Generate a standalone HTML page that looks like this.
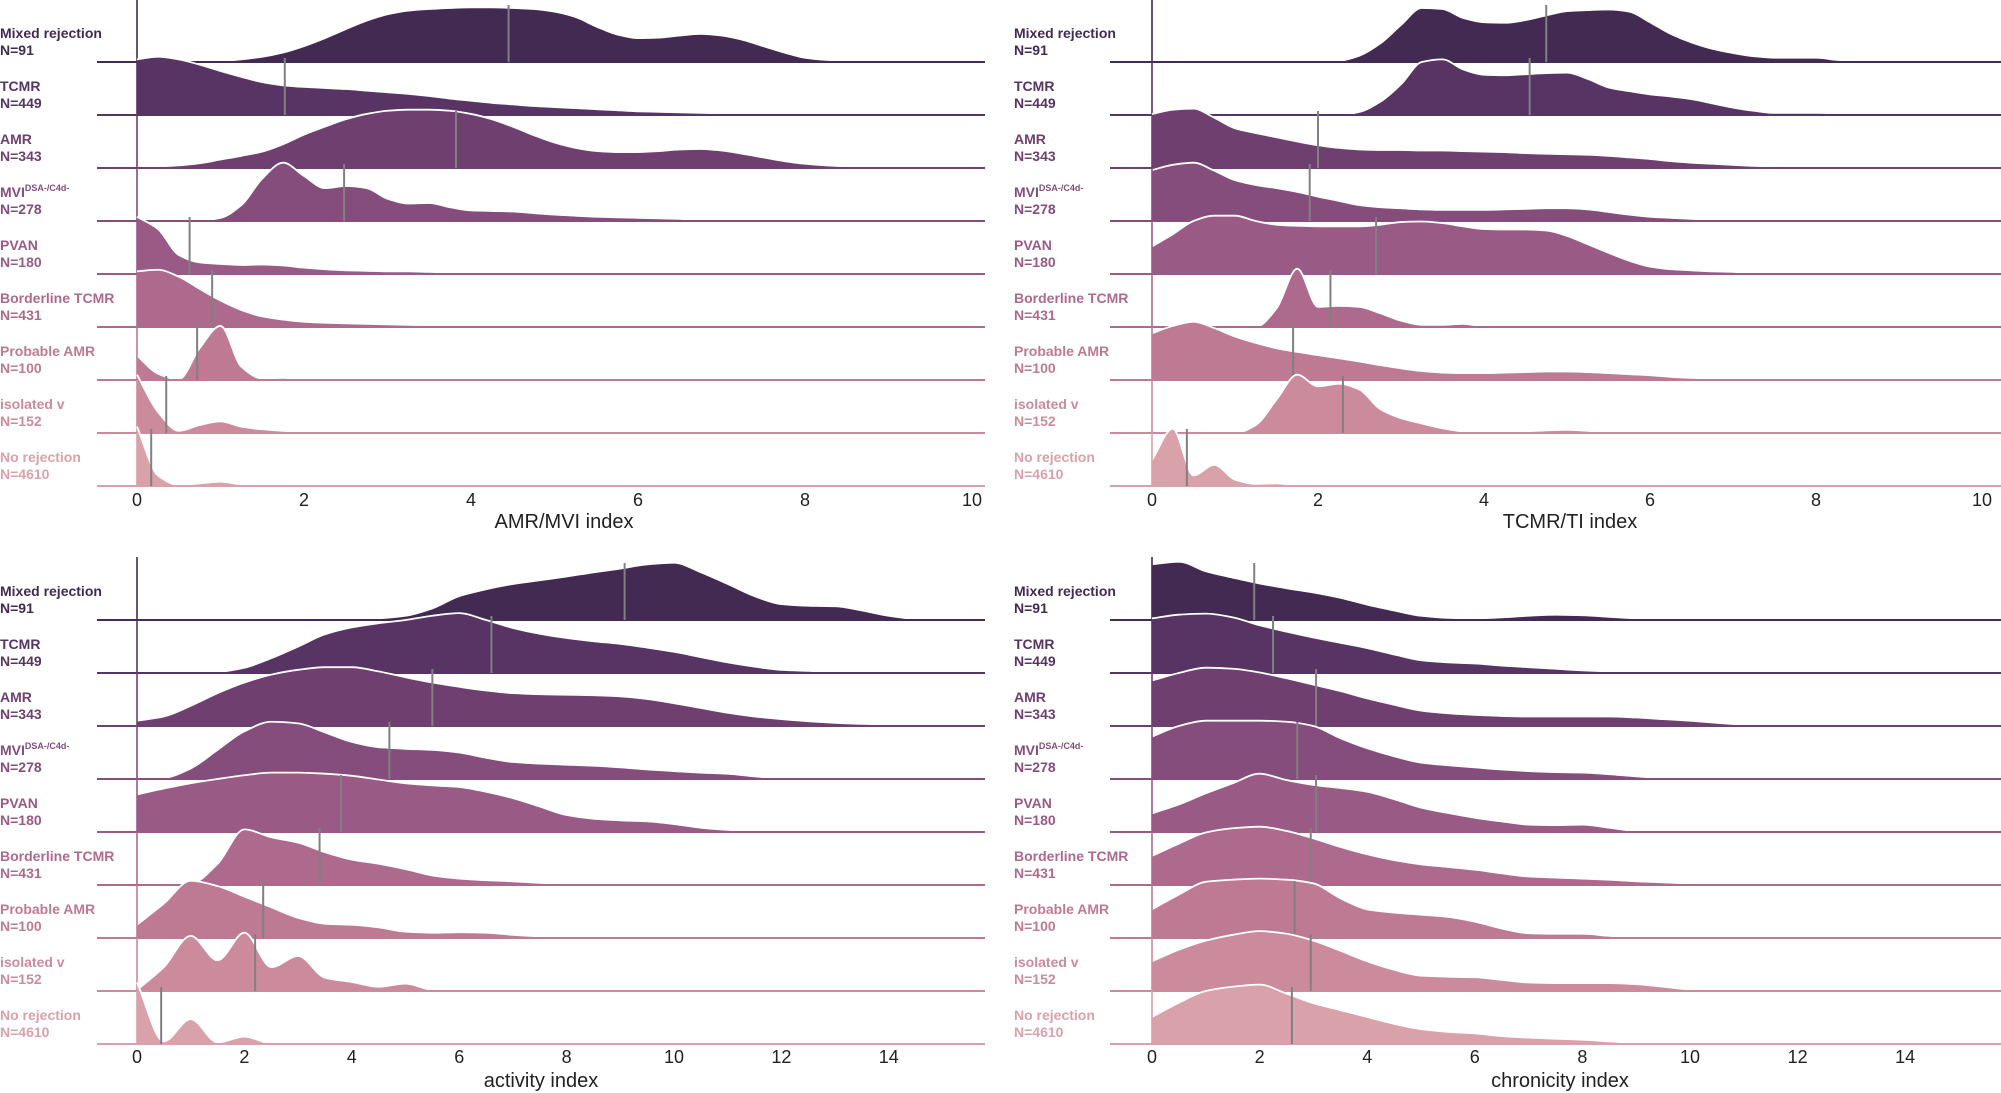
<!DOCTYPE html>
<html><head><meta charset="utf-8">
<style>
html,body{margin:0;padding:0;background:#fff;}
svg{display:block;font-family:"Liberation Sans",sans-serif;}
</style></head>
<body>
<svg id="chart" width="2001" height="1093" viewBox="0 0 2001 1093" xmlns="http://www.w3.org/2000/svg"></svg>
<script>
const categories = ["Mixed rejection","TCMR","AMR","MVI","PVAN","Borderline TCMR","Probable AMR","isolated v","No rejection"];
const counts = [91,449,343,278,180,431,100,152,4610];
const colors = ["#432a52","#573463","#6f3f70","#854d7c","#9a5a86","#ad6a8c","#be7993","#cb8b9d","#d9a1aa"];

// Panel 1: AMR/MVI index, grid step 0.25
const amrStep = 0.25;
const amrTicks = [0,2,4,6,8,10];
const amrMedians = [4.45,1.77,3.82,2.48,0.63,0.9,0.72,0.35,0.17];
const amrDens = [
 [0,0,0,0.01,0.02,0.05,0.1,0.18,0.3,0.45,0.62,0.78,0.9,0.97,1.0,1.02,1.03,1.03,1.02,1.0,0.95,0.85,0.67,0.52,0.45,0.46,0.5,0.53,0.5,0.42,0.3,0.18,0.08,0.04,0.02,0.01,0],
 [1.05,1.1,1.05,0.95,0.83,0.72,0.62,0.56,0.53,0.51,0.49,0.46,0.43,0.4,0.36,0.31,0.27,0.23,0.2,0.17,0.15,0.13,0.11,0.09,0.07,0.06,0.05,0.04,0.03,0.02,0.01,0],
 [0.02,0.03,0.05,0.09,0.16,0.23,0.31,0.45,0.63,0.78,0.92,1.02,1.08,1.1,1.1,1.08,1.02,0.92,0.78,0.62,0.48,0.38,0.32,0.3,0.3,0.32,0.35,0.36,0.33,0.27,0.2,0.13,0.08,0.05,0.03,0.01,0],
 [0,0,0,0.01,0.06,0.3,0.8,1.1,0.85,0.62,0.66,0.62,0.42,0.33,0.34,0.26,0.2,0.19,0.18,0.15,0.12,0.1,0.08,0.07,0.06,0.05,0.04,0.02,0.01,0],
 [1.08,0.85,0.36,0.22,0.19,0.17,0.18,0.16,0.12,0.09,0.07,0.06,0.05,0.05,0.04,0.03,0.03,0.02,0.02,0.01,0],
 [1.05,1.08,0.95,0.72,0.5,0.32,0.2,0.14,0.1,0.08,0.07,0.06,0.05,0.04,0.03,0.02,0.01,0],
 [0.46,0.12,0.01,0.6,1.02,0.25,0.03,0.04,0.01,0.02,0.01,0],
 [1.1,0.4,0.04,0.15,0.22,0.12,0.07,0.04,0.02,0.02,0.01,0],
 [1.12,0.2,0.02,0.05,0.08,0.03,0.01,0]
];

// Panel 2: TCMR/TI index, grid step 0.25
const tcmrStep = 0.25;
const tcmrTicks = [0,2,4,6,8,10];
const tcmrMedians = [4.75,4.55,2.0,1.9,2.7,2.15,1.7,2.3,0.42];
const tcmrDens = [
 [0,0,0,0,0,0,0,0,0,0.02,0.12,0.35,0.7,1.02,1.0,0.83,0.75,0.74,0.79,0.88,0.96,0.98,0.99,0.95,0.75,0.53,0.37,0.25,0.17,0.11,0.08,0.08,0.08,0.04,0.01,0],
 [0,0,0,0,0,0,0,0,0,0,0.06,0.25,0.58,1.0,1.05,0.86,0.76,0.75,0.77,0.79,0.8,0.68,0.52,0.45,0.39,0.35,0.3,0.22,0.14,0.08,0.04,0.04,0.04,0.03,0.01,0],
 [1.02,1.1,1.12,0.95,0.75,0.66,0.58,0.5,0.43,0.38,0.35,0.34,0.34,0.33,0.33,0.32,0.31,0.3,0.28,0.27,0.26,0.25,0.23,0.2,0.17,0.13,0.1,0.08,0.06,0.04,0.03,0.02,0.02,0.01,0],
 [0.96,1.06,1.1,0.95,0.77,0.68,0.62,0.55,0.46,0.38,0.3,0.26,0.24,0.22,0.21,0.21,0.21,0.22,0.23,0.24,0.24,0.22,0.17,0.12,0.08,0.06,0.04,0.02,0.01,0],
 [0.52,0.75,1.0,1.1,1.1,1.0,0.93,0.91,0.9,0.9,0.9,0.93,0.98,0.99,0.96,0.9,0.85,0.84,0.84,0.82,0.72,0.56,0.4,0.25,0.14,0.09,0.07,0.05,0.04,0.02,0.01,0],
 [0,0,0,0,0,0,0.35,1.1,0.38,0.4,0.38,0.26,0.12,0.04,0.04,0.06,0.01,0],
 [0.88,1.02,1.1,0.98,0.82,0.7,0.6,0.53,0.47,0.41,0.35,0.28,0.22,0.17,0.14,0.13,0.13,0.14,0.15,0.16,0.16,0.15,0.13,0.11,0.09,0.06,0.04,0.03,0.02,0.01,0],
 [0,0,0,0,0,0.15,0.63,1.1,0.88,0.93,0.82,0.45,0.28,0.18,0.09,0.03,0.02,0.02,0.03,0.05,0.06,0.04,0.01,0],
 [0.49,1.08,0.2,0.4,0.12,0.04,0.05,0.01,0]
];

// Panel 3: activity index, grid step 0.5
const actStep = 0.5;
const actTicks = [0,2,4,6,8,10,12,14];
const actMedians = [9.08,6.6,5.5,4.7,3.8,3.4,2.35,2.2,0.45];
const actDens = [
 [0,0,0,0,0,0,0,0,0,0.03,0.08,0.22,0.45,0.58,0.68,0.75,0.82,0.9,0.97,1.05,1.08,0.9,0.68,0.45,0.3,0.27,0.26,0.18,0.08,0.02,0],
 [0,0,0,0.02,0.1,0.28,0.5,0.73,0.86,0.94,1.0,1.08,1.13,1.0,0.85,0.74,0.66,0.6,0.55,0.48,0.4,0.3,0.2,0.12,0.06,0.04,0.02,0.01,0],
 [0.1,0.18,0.38,0.62,0.82,0.97,1.06,1.11,1.11,1.03,0.92,0.82,0.74,0.67,0.62,0.6,0.59,0.58,0.56,0.51,0.43,0.34,0.25,0.18,0.13,0.09,0.06,0.04,0.03,0.02,0.01],
 [0,0.02,0.2,0.55,0.9,1.08,1.05,0.88,0.7,0.6,0.57,0.55,0.5,0.4,0.32,0.29,0.27,0.25,0.22,0.18,0.15,0.12,0.1,0.05,0.01,0],
 [0.71,0.82,0.92,1.0,1.07,1.12,1.12,1.1,1.06,0.99,0.92,0.88,0.85,0.76,0.64,0.48,0.32,0.25,0.22,0.2,0.15,0.08,0.04,0.02,0.01,0],
 [0,0,0.02,0.4,1.05,0.9,0.8,0.62,0.48,0.4,0.3,0.18,0.12,0.09,0.07,0.04,0.02,0.01,0],
 [0.25,0.65,1.08,0.98,0.78,0.58,0.38,0.27,0.25,0.2,0.12,0.1,0.11,0.1,0.06,0.03,0.01,0],
 [0.02,0.45,1.04,0.58,1.1,0.45,0.66,0.25,0.17,0.08,0.14,0.02,0],
 [1.16,0.05,0.47,0.03,0.14,0.01,0]
];

// Panel 4: chronicity index, grid step 0.5
const chrStep = 0.5;
const chrTicks = [0,2,4,6,8,10,12,14];
const chrMedians = [1.9,2.25,3.05,2.7,3.05,2.95,2.65,2.95,2.6];
const chrDens = [
 [1.05,1.1,0.92,0.8,0.69,0.6,0.52,0.42,0.29,0.18,0.08,0.04,0.03,0.05,0.08,0.1,0.09,0.06,0.03,0.02,0.01,0],
 [1.03,1.1,1.12,1.05,0.9,0.78,0.67,0.57,0.47,0.35,0.24,0.2,0.18,0.14,0.11,0.08,0.05,0.03,0.02,0.01,0.01,0],
 [0.86,1.0,1.1,1.08,1.01,0.9,0.78,0.66,0.52,0.4,0.29,0.24,0.21,0.19,0.18,0.18,0.18,0.18,0.16,0.13,0.1,0.06,0.03,0.02,0.01,0.01,0.01,0],
 [0.8,1.0,1.1,1.1,1.1,1.08,1.0,0.77,0.58,0.43,0.31,0.26,0.22,0.18,0.15,0.13,0.12,0.09,0.05,0.02,0.01,0],
 [0.35,0.52,0.73,0.92,1.1,0.98,0.89,0.83,0.76,0.62,0.46,0.36,0.27,0.2,0.14,0.13,0.14,0.08,0.02,0.01,0],
 [0.55,0.78,0.99,1.07,1.1,1.02,0.88,0.72,0.58,0.47,0.39,0.34,0.29,0.22,0.16,0.14,0.12,0.1,0.07,0.05,0.03,0.02,0.01,0],
 [0.54,0.82,1.06,1.1,1.12,1.1,1.03,0.75,0.54,0.48,0.44,0.4,0.31,0.18,0.09,0.08,0.08,0.04,0.01,0],
 [0.56,0.78,0.95,1.06,1.13,1.08,0.95,0.76,0.56,0.4,0.29,0.27,0.26,0.21,0.16,0.15,0.15,0.15,0.13,0.08,0.03,0.02,0.01,0],
 [0.51,0.78,1.0,1.08,1.12,0.95,0.77,0.64,0.51,0.38,0.28,0.23,0.2,0.15,0.12,0.1,0.08,0.05,0.02,0.01,0.01,0]
];

const NS = "http://www.w3.org/2000/svg";
const svg = document.getElementById("chart");
const ROW = 53, HSCALE = 53, MEDH = 57;

function mk(tag, attrs, parent){
  const e = document.createElementNS(NS, tag);
  for (const k in attrs) e.setAttribute(k, attrs[k]);
  (parent||svg).appendChild(e);
  return e;
}

function monotonePath(pts){
  const n = pts.length;
  if (n < 2) return "";
  const dx=[], dy=[], m=[];
  for (let i=0;i<n-1;i++){ dx.push(pts[i+1][0]-pts[i][0]); dy.push(pts[i+1][1]-pts[i][1]); m.push(dy[i]/dx[i]); }
  const t = new Array(n);
  t[0]=m[0]; t[n-1]=m[n-2];
  for (let i=1;i<n-1;i++){
    if (m[i-1]*m[i] <= 0) t[i]=0;
    else { const h0=dx[i-1], h1=dx[i]; t[i] = 3*(h0+h1)/((2*h1+h0)/m[i-1] + (h1+2*h0)/m[i]); }
  }
  let d = "";
  for (let i=0;i<n-1;i++){
    const h = dx[i]/3;
    d += " C" + (pts[i][0]+h).toFixed(2)+","+(pts[i][1]+t[i]*h).toFixed(2)+" "+(pts[i+1][0]-h).toFixed(2)+","+(pts[i+1][1]-t[i+1]*h).toFixed(2)+" "+pts[i+1][0].toFixed(2)+","+pts[i+1][1].toFixed(2);
  }
  return d;
}

function drawPanel(p){
  const g = mk("g", {});
  
  
  const xs = v => p.x0 + v*p.unit;
  const base = i => p.top + i*ROW;
  categories.forEach((cat, i) => {
    const by = base(i);
    const col = colors[i];
    const rg = mk("g", {}, g);
    
    
    const dens = p.dens[i];
    const pts = dens.map((v, k) => [xs(k*p.step), by - v*HSCALE]);
    const curve = monotonePath(pts);
    const area = mk("path", {d: "M"+pts[0][0]+","+by+" L"+pts[0][0].toFixed(2)+","+pts[0][1].toFixed(2)+curve+" L"+pts[pts.length-1][0]+","+by+" Z", fill: col, stroke: "none"}, rg);
    
    
    const outline = mk("path", {d: "M"+pts[0][0].toFixed(2)+","+pts[0][1].toFixed(2)+curve, fill: "none", stroke: "#ffffff", "stroke-width": 1.8}, rg);
    
    
    const bl = mk("line", {x1: p.lineL, x2: p.lineR, y1: by, y2: by, stroke: col, "stroke-width": 2}, rg);
    
    
    const ax = mk("line", {x1: p.x0, x2: p.x0, y1: (i===0 ? p.axisTop : by-ROW), y2: by, stroke: col, "stroke-width": 1.6}, rg);
    
    
    const md = mk("line", {x1: xs(p.medians[i]), x2: xs(p.medians[i]), y1: by-MEDH, y2: by, stroke: "#808080", "stroke-width": 2}, rg);
    
    
    const lab = mk("text", {x: p.labelX, y: by-24, fill: col, "font-size": 14, "font-weight": "bold"}, rg);
    
    
    if (cat === "MVI") {
      lab.appendChild(document.createTextNode("MVI"));
      const sup = mk("tspan", {"font-size": 9, dy: -6}, lab);
      sup.textContent = "DSA-/C4d-";
    } else lab.textContent = cat;
    const nl = mk("text", {x: p.labelX, y: by-7, fill: col, "font-size": 14, "font-weight": "bold"}, rg);
    
    
    nl.textContent = "N=" + counts[i];
  });
  p.ticks.forEach(t => {
    const tl = mk("text", {x: xs(t), y: p.tickY, "text-anchor": "middle", "font-size": 18, fill: "#222"}, g);
    
    
    tl.textContent = t;
  });
  const tt = mk("text", {x: p.titleX, y: p.titleY, "text-anchor": "middle", "font-size": 20, fill: "#222"}, g);
  
  
  tt.textContent = p.title;
}

drawPanel({name:"panel-amr-mvi", x0:137, unit:83.5, top:62, axisTop:0, step:amrStep, dens:amrDens, medians:amrMedians, ticks:amrTicks, lineL:97, lineR:985, labelX:0, tickY:506, title:"AMR/MVI index", titleX:564, titleY:528});
drawPanel({name:"panel-tcmr-ti", x0:1152, unit:83, top:62, axisTop:0, step:tcmrStep, dens:tcmrDens, medians:tcmrMedians, ticks:tcmrTicks, lineL:1110, lineR:2001, labelX:1014, tickY:506, title:"TCMR/TI index", titleX:1570, titleY:528});
drawPanel({name:"panel-activity", x0:137, unit:53.7, top:620, axisTop:557, step:actStep, dens:actDens, medians:actMedians, ticks:actTicks, lineL:97, lineR:985, labelX:0, tickY:1063, title:"activity index", titleX:541, titleY:1087});
drawPanel({name:"panel-chronicity", x0:1152, unit:53.8, top:620, axisTop:557, step:chrStep, dens:chrDens, medians:chrMedians, ticks:chrTicks, lineL:1110, lineR:2001, labelX:1014, tickY:1063, title:"chronicity index", titleX:1560, titleY:1087});
</script>
</body></html>
